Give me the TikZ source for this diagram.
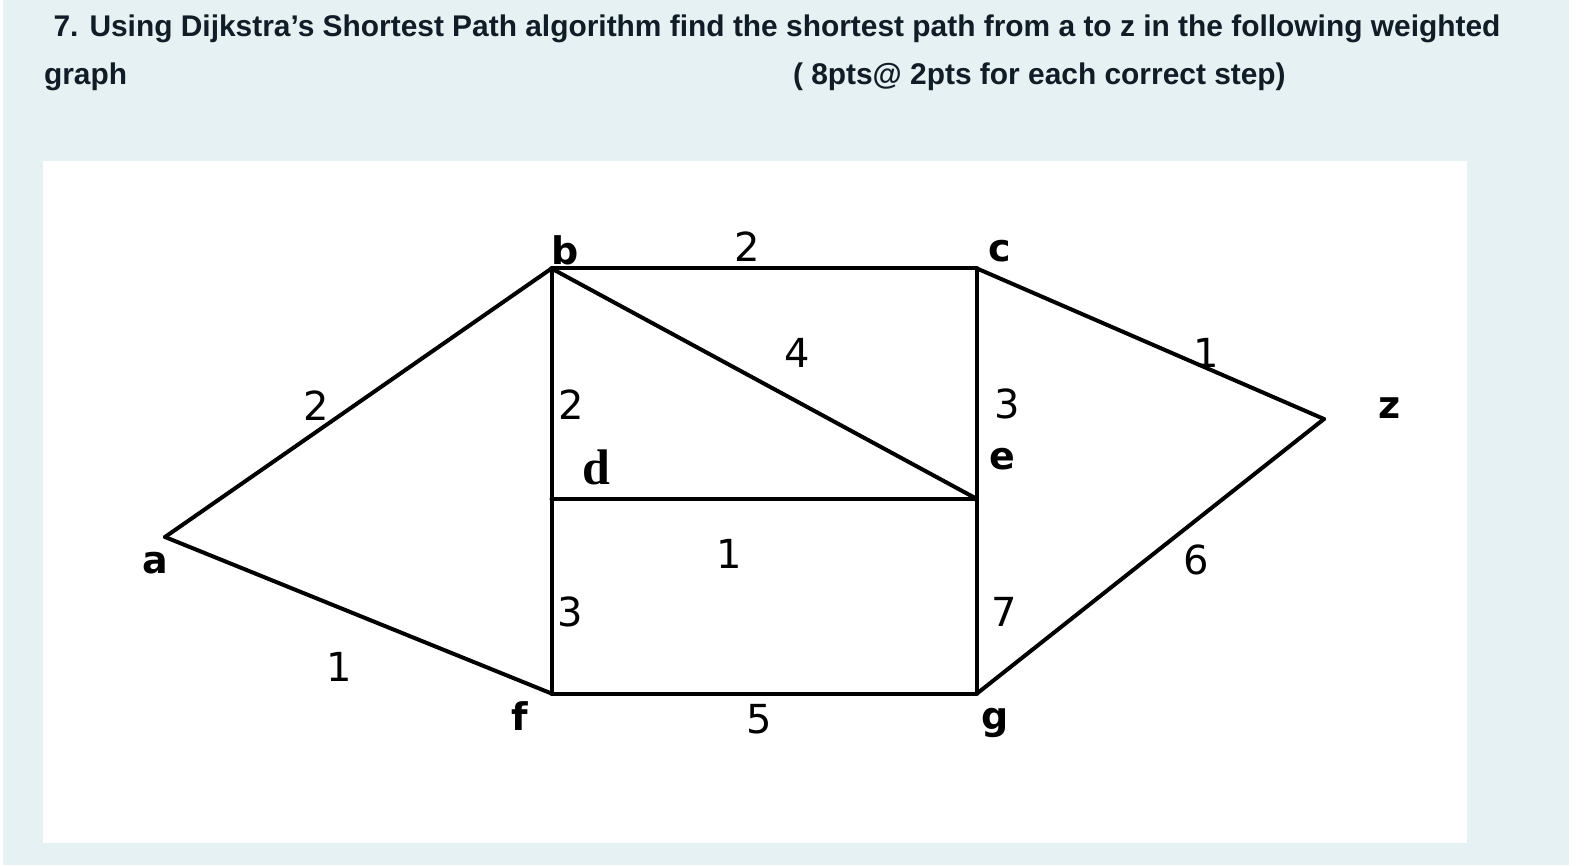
\documentclass[tikz,border=0pt]{standalone}
\usepackage{fontspec}
\setmainfont{Liberation Sans}
\newfontfamily\vtxfont{DejaVu Sans}
\newfontfamily\dfont{Liberation Serif}
\usetikzlibrary{positioning}
\definecolor{panelblue}{RGB}{230,241,243}
\definecolor{titleink}{RGB}{16,28,38}

\begin{document}
\begin{tikzpicture}[x=1pt, y=-1pt, line width=4pt, line cap=round,
    vtx/.style = {inner sep=0pt, font=\vtxfont\bfseries\fontsize{38}{38}\selectfont},
    wt/.style = {inner sep=0pt, font=\vtxfont\fontsize{40}{40}\selectfont},
    qtext/.style = {inner sep=0pt, anchor=base west, text=titleink, font=\bfseries\fontsize{29.9}{36}\selectfont}]
    % panel
    \fill[white] (0,0) rectangle (1592,866);
    \fill[panelblue] (3,0) rectangle (1569,865);
    \fill[white] (43,161) rectangle (1467,843);
    \useasboundingbox (0,0) rectangle (1592,866);
    % question
    \node[qtext] (q1) at (51.5,36.5) {7. Using Dijkstra’s Shortest Path algorithm find the shortest path from a to z in the following weighted};
    \node[qtext] (q2) at (42,85) {graph};
    \node[qtext] (q3) at (791,85) {( 8pts@ 2pts for each correct step)};
    % vertices
    \coordinate (a) at (165,537);
    \coordinate (b) at (551.5,268.5);
    \coordinate (c) at (977,268.5);
    \coordinate (d) at (551.5,499);
    \coordinate (e) at (977,499);
    \coordinate (f) at (551.5,693.5);
    \coordinate (g) at (977,693.5);
    \coordinate (z) at (1324,419);
    % edges
    \draw (a) -- (b);
    \draw (a) -- (f);
    \draw (b) -- (c);
    \draw (b) -- (f);
    \draw (b) -- (e);
    \draw (c) -- (g);
    \draw (c) -- (z);
    \draw (d) -- (e);
    \draw (f) -- (g);
    \draw (g) -- (z);
    % vertex names
    \node[vtx] (la) at (155.5,563.5) {a};
    \node[vtx] (lb) at (565.5,250) {b};
    \node[vtx] (lc) at (999.5,251.5) {c};
    \node[inner sep=0pt, font=\dfont\bfseries\fontsize{50}{50}\selectfont] (ld) at (596,467) {d};
    \node[vtx] (le) at (1002,459) {e};
    \node[vtx] (lf) at (520,716) {f};
    \node[vtx] (lg) at (995,723) {g};
    \node[vtx] (lz) at (1390,408) {z};
    % weights
    \node[wt] (wab) at (316.5,406) {2};
    \node[wt] (waf) at (339,666.5) {1};
    \node[wt] (wbc) at (747.5,247) {2};
    \node[wt] (wbd) at (571.5,405) {2};
    \node[wt] (wbe) at (797,353) {4};
    \node[wt] (wce) at (1007,404) {3};
    \node[wt] (wcz) at (1206,353) {1};
    \node[wt] (wde) at (729,554) {1};
    \node[wt] (wdf) at (570.5,612) {3};
    \node[wt] (weg) at (1004,612) {7};
    \node[wt] (wfg) at (759,719) {5};
    \node[wt] (wgz) at (1196,560) {6};
\end{tikzpicture}
\end{document}
